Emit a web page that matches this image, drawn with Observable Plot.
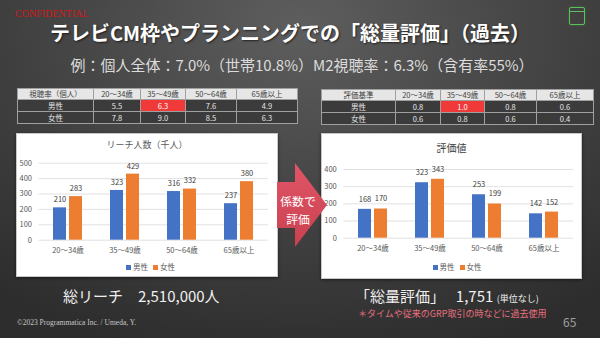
<!DOCTYPE html>
<html><head><meta charset="utf-8">
<script src="https://cdn.jsdelivr.net/npm/d3@7"></script>
<script src="https://cdn.jsdelivr.net/npm/@observablehq/plot@0.6"></script>
<style>
html,body{margin:0;padding:0;}
body{width:600px;height:338px;overflow:hidden;position:relative;
  font-family:"Noto Sans CJK JP","Noto Sans",sans-serif;
  background:radial-gradient(ellipse 80% 100% at 50% 8%, #5e5e5e 0%, #474747 45%, #2d2d2d 100%);}
.abs{position:absolute;white-space:nowrap;}
.conf{left:15px;top:8px;font-family:"Liberation Serif",serif;font-size:10px;line-height:11px;color:#d01818;}
.title{left:0;width:580px;top:19px;text-align:center;font-size:20px;font-weight:bold;color:#fff;line-height:28px;text-shadow:1px 1px 2px rgba(0,0,0,.6);}
.sub{left:0;width:604px;top:55px;text-align:center;font-size:15px;color:#dcdcdc;line-height:20px;}
.logo{left:569px;top:7px;width:14px;height:16px;border:1.6px solid #5fbf5f;border-radius:2px;box-shadow:0 0 2px #3a8a3a;}
.logo:after{content:"";position:absolute;left:0;right:0;top:3px;border-top:1.4px solid #5fbf5f;}
table{position:absolute;border-collapse:collapse;table-layout:fixed;font-size:7.5px;}
td{border:1px solid #a0a0a0;text-align:center;padding:0;line-height:10px;}
tr.h td{background:#e6e6e6;color:#404040;height:10px;}
tr.b td{background:#3b3b3b;color:#e6e6e6;height:11px;}
tr.b td.hi{background:#f03a3a;color:#fff;}
.box{position:absolute;background:#fff;border:1px solid #c8c8c8;box-sizing:border-box;box-shadow:0 1px 3px rgba(0,0,0,.5);}
.ctitle{text-align:center;color:#595959;}
.legend{font-size:7.5px;color:#595959;text-align:center;}
.legend .sw{display:inline-block;width:5px;height:5px;margin:0 2px 0 5px;vertical-align:0px;}
.chart{position:absolute;}
.arrow{left:277px;top:163px;width:50px;height:84px;background:linear-gradient(#e05668,#c9404f);
  clip-path:polygon(0 19px,18px 19px,18px 0,50px 42px,18px 84px,18px 65px,0 65px);}
.atext{left:277px;width:42px;text-align:center;color:#fff;font-size:11.8px;line-height:13px;}
.big{color:#f0f0f0;font-size:15px;line-height:20px;}
.note{left:358px;top:307px;font-size:9px;color:#e8707e;}
.copy{left:17px;top:318px;font-family:"Liberation Serif",serif;font-size:7.5px;color:#c8c8c8;}
.page{left:563px;top:313px;font-size:12px;color:#a0a0a0;}
</style></head>
<body>
<script>
// ---- data ----
const ages = ["20～34歳", "35～49歳", "50～64歳", "65歳以上"];
const sexes = ["男性", "女性"];
const ratingMale = ["5.5", "6.3", "7.6", "4.9"];
const ratingFemale = ["7.8", "9.0", "8.5", "6.3"];
const coefMale = ["0.8", "1.0", "0.8", "0.6"];
const coefFemale = ["0.6", "0.8", "0.6", "0.4"];
const reachMale = [210, 323, 316, 237];
const reachFemale = [283, 429, 332, 380];
const evalMale = [168, 323, 253, 142];
const evalFemale = [170, 343, 199, 152];
const reachTicks = [0, 100, 200, 300, 400, 500];
const evalTicks = [0, 100, 200, 300, 400];
const sexColors = ["#4472c4", "#ed7d31"];

// ---- helpers ----
function el(tag, cls, text, css) {
  const e = document.createElement(tag);
  if (cls) e.className = cls;
  if (text != null) e.textContent = text;
  if (css) Object.assign(e.style, css);
  document.body.appendChild(e);
  return e;
}

el("div", "abs conf", "CONFIDENTIAL");
el("div", "abs title", "テレビCM枠やプランニングでの「総量評価」（過去）");
el("div", "abs sub", "例：個人全体：7.0%（世帯10.8%）M2視聴率：6.3%（含有率55%）");
el("div", "abs logo");

function makeTable(head, male, female, hiIndex, left, top, widths) {
  const t = document.createElement("table");
  t.style.left = left + "px"; t.style.top = top + "px";
  t.style.width = widths.reduce((a, b) => a + b, 0) + "px";
  const cg = document.createElement("colgroup");
  widths.forEach(w => { const c = document.createElement("col"); c.style.width = w + "px"; cg.appendChild(c); });
  t.appendChild(cg);
  const rows = [["h", [head, ...ages]], ["b", [sexes[0], ...male]], ["b", [sexes[1], ...female]]];
  rows.forEach(([cls, cells], ri) => {
    const tr = document.createElement("tr"); tr.className = cls;
    cells.forEach((v, ci) => {
      const td = document.createElement("td"); td.textContent = v;
      if (ri === 1 && ci - 1 === hiIndex) td.className = "hi";
      tr.appendChild(td);
    });
    t.appendChild(tr);
  });
  document.body.appendChild(t);
}
makeTable("視聴率（個人）", ratingMale, ratingFemale, 1, 17, 88, [76, 47, 45, 51, 61]);
makeTable("評価基準", coefMale, coefFemale, 1, 321, 89, [74, 45, 44, 52, 57]);

function chart(male, female, ticks, o) {
  const rows = ages.map((a, i) => ({age: a, male: male[i], female: female[i]}));
  const svg = Plot.plot({
    width: o.width, height: o.height,
    marginTop: o.mt, marginBottom: o.mb, marginLeft: o.ml, marginRight: o.mr,
    style: {fontFamily: '"Noto Sans CJK JP", sans-serif', fontSize: "7.5px", color: "#595959", background: "transparent", overflow: "visible"},
    x: {domain: ages, paddingInner: 0.487, paddingOuter: 0.244, label: null, tickSize: 0, tickPadding: 7},
    y: {domain: [0, ticks[ticks.length - 1]], ticks: ticks, label: null, tickSize: 0, tickPadding: 7},
    marks: [
      Plot.ruleY(ticks, {stroke: "#d9d9d9", strokeWidth: 0.8}),
      Plot.barY(rows, {x: "age", y: "male", fill: sexColors[0], insetRight: 16}),
      Plot.barY(rows, {x: "age", y: "female", fill: sexColors[1], insetLeft: 16}),
      Plot.text(rows, {x: "age", y: "male", text: d => String(d.male), dx: -8, dy: -o.ld, fill: "#404040", fontSize: 7.5}),
      Plot.text(rows, {x: "age", y: "female", text: d => String(d.female), dx: 8, dy: -o.ld, fill: "#404040", fontSize: 7.5})
    ]
  });
  const wrap = el("div", "chart", null, {left: o.left + "px", top: o.top + "px"});
  wrap.appendChild(svg);
}

function legend(left, top, width) {
  const d = el("div", "abs legend", null, {left: left + "px", top: top + "px", width: width + "px"});
  sexes.forEach((s, i) => {
    const sw = document.createElement("span"); sw.className = "sw"; sw.style.background = sexColors[i];
    d.appendChild(sw); d.appendChild(document.createTextNode(s));
  });
}

// left chart
el("div", "box", null, {left: "16px", top: "133px", width: "262px", height: "144px"});
el("div", "abs ctitle", "リーチ人数（千人）", {left: "16px", width: "262px", top: "139px", fontSize: "9px", lineHeight: "12px"});
chart(reachMale, reachFemale, reachTicks, {left: 16, top: 153, width: 262, height: 103, mt: 9.7, mb: 16.3, ml: 22.5, mr: 10.3, ld: 8});
legend(16, 261, 264);

// right chart
el("div", "box", null, {left: "321px", top: "133px", width: "261px", height: "146px"});
el("div", "abs ctitle", "評価値", {left: "321px", width: "261px", top: "141px", fontSize: "10px", lineHeight: "14px", color: "#404040"});
chart(evalMale, evalFemale, evalTicks, {left: 321, top: 158, width: 261, height: 97, mt: 11, mb: 17.3, ml: 22.3, mr: 9, ld: 10});
legend(324, 261, 261);

// arrow
el("div", "abs arrow");
el("div", "abs atext", "係数で", {top: "194px"});
el("div", "abs atext", "評価", {top: "212px"});

// bottom texts
el("div", "abs big", "総リーチ　2,510,000人", {left: "63px", top: "286px"});
const tv = el("div", "abs big", null, {left: "355px", top: "286px"});
tv.innerHTML = "「総量評価」　 1,751 <span style='font-size:9px'>(単位なし)</span>";
el("div", "abs note", "＊タイムや従来のGRP取引の時などに過去使用");
el("div", "abs copy", "©2023  Programmatica Inc. / Umeda, Y.");
el("div", "abs page", "65");
</script>
</body></html>
